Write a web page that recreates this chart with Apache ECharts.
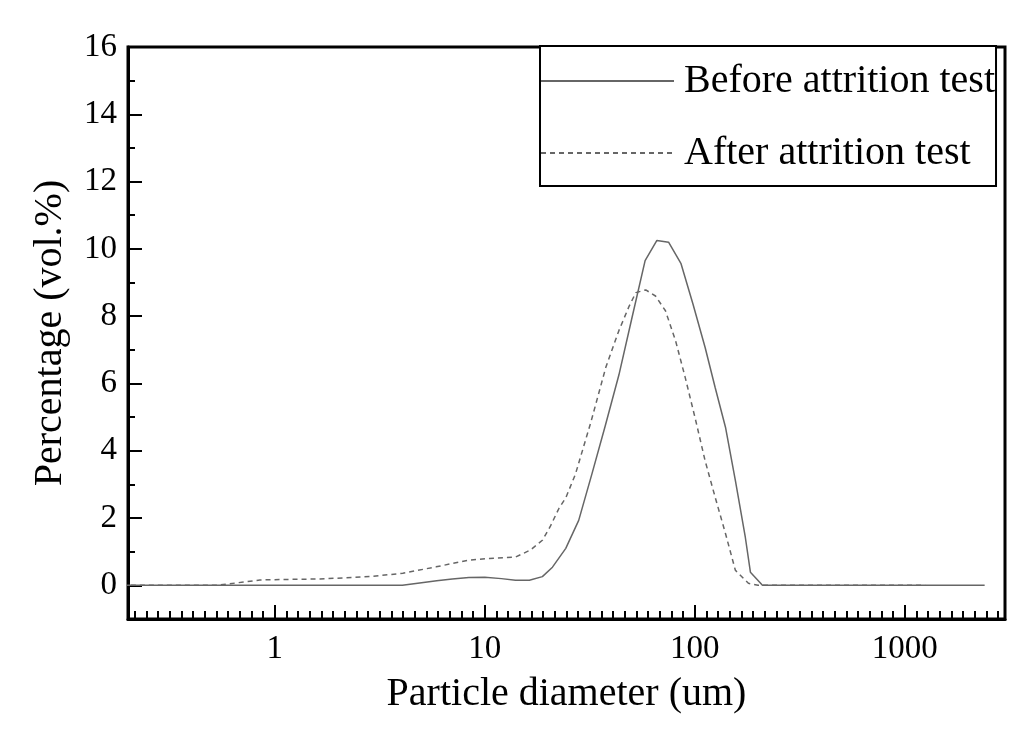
<!DOCTYPE html>
<html>
<head>
<meta charset="utf-8">
<script src="https://cdn.jsdelivr.net/npm/echarts@6/dist/echarts.min.js"></script>
<style>
  html, body { margin: 0; padding: 0; background: #fff; }
  #chart { width: 1032px; height: 729px; }
</style>
</head>
<body>
<div id="chart"></div>
<script>
// particle size distribution
var beforeSize = [0.187, 0.5, 1, 2, 3, 4.05, 5, 5.9, 7, 8.4, 10, 12, 14, 16.3, 18.8, 21, 24.3, 28, 32.5, 37.5, 43.5, 50, 58, 66, 75, 86, 98, 112, 125, 140, 156, 174, 184, 210, 500, 1000, 2400];
var beforeVal  = [0, 0, 0, 0, 0, 0, 0.08, 0.14, 0.19, 0.23, 0.24, 0.2, 0.15, 0.15, 0.26, 0.54, 1.1, 1.93, 3.35, 4.75, 6.25, 7.9, 9.65, 10.25, 10.2, 9.56, 8.36, 7.07, 5.88, 4.7, 3.12, 1.43, 0.39, 0, 0, 0, 0];

var afterSize = [0.187, 0.53, 0.85, 1, 1.64, 2.83, 4.07, 5.86, 8.4, 10.5, 14, 16.5, 18.8, 20.5, 22.6, 24.3, 27, 32, 37.7, 43.5, 48.7, 52.4, 58.4, 65, 72.5, 81, 90, 101, 112, 125, 140, 156, 180, 200, 1250];
var afterVal  = [0, 0, 0.16, 0.17, 0.19, 0.26, 0.36, 0.55, 0.75, 0.8, 0.84, 1.05, 1.34, 1.75, 2.3, 2.6, 3.3, 4.85, 6.48, 7.57, 8.3, 8.7, 8.78, 8.6, 8.16, 7.27, 6.18, 4.9, 3.7, 2.62, 1.54, 0.45, 0.06, 0, 0];

var xMajor = [1, 10, 100, 1000];
var yMajor = [0, 2, 4, 6, 8, 10, 12, 14, 16];
var yMinor = [1, 3, 5, 7, 9, 11, 13, 15];

// minor ticks on x are evenly spaced: 18 per decade
var xMinor = [];
for (var k = -12; k <= 62; k++) {
  if (k % 18 !== 0) xMinor.push(Math.pow(10, k / 18));
}

function pairs(xs, ys) {
  var res = [];
  for (var i = 0; i < xs.length; i++) res.push([xs[i], ys[i]]);
  return res;
}

var font = "'Liberation Serif', 'Times New Roman', serif";
var myChart = echarts.init(document.getElementById("chart"));

var option = {
  animation: false,
  backgroundColor: "#fff",
  textStyle: { fontFamily: font, color: "#000" },
  grid: {
    left: 128, right: 27, top: 47, bottom: 110,
    show: true, borderColor: "#000", borderWidth: 3
  },
  legend: {
    left: 540, top: 46,
    orient: "vertical",
    itemWidth: 133, itemHeight: 40, itemGap: 32,
    padding: [15, 1, 13, 0],
    borderColor: "#000", borderWidth: 2,
    backgroundColor: "#fff",
    itemStyle: { opacity: 0 },
    textStyle: { fontFamily: font, fontSize: 40, color: "#000", padding: [0, 0, 0, 5] },
    data: ["Before attrition test", "After attrition test"]
  },
  xAxis: [
    {
      type: "log", logBase: 10, min: 0.2, max: 3000,
      name: "Particle diameter (um)", nameLocation: "middle", nameGap: 55,
      nameTextStyle: { fontFamily: font, fontSize: 40, color: "#000" },
      axisLine: { onZero: false, lineStyle: { color: "#000", width: 3 } },
      axisTick: { inside: true, length: 14, lineStyle: { color: "#000", width: 2 }, customValues: xMajor },
      axisLabel: {
        fontFamily: font, fontSize: 33, color: "#000", margin: 14, customValues: xMajor,
        formatter: function (v) { return String(v); }
      },
      splitLine: { show: false }
    },
    {
      type: "log", logBase: 10, min: 0.2, max: 3000, position: "bottom",
      axisLine: { show: false, onZero: false },
      axisTick: { inside: true, length: 8, lineStyle: { color: "#000", width: 2 }, customValues: xMinor },
      axisLabel: { show: false },
      splitLine: { show: false }
    }
  ],
  yAxis: [
    {
      type: "value", min: -1, max: 16, interval: 1,
      name: "Percentage (vol.%)", nameLocation: "middle", nameGap: 58,
      nameTextStyle: { fontFamily: font, fontSize: 40, color: "#000" },
      axisLine: { show: true, onZero: false, lineStyle: { color: "#000", width: 3 } },
      axisTick: { show: true, inside: true, length: 14, lineStyle: { color: "#000", width: 2 }, customValues: yMajor },
      axisLabel: { fontFamily: font, fontSize: 33, color: "#000", margin: 11, customValues: yMajor },
      splitLine: { show: false }
    },
    {
      type: "value", min: -1, max: 16, interval: 1, position: "left", offset: 0,
      axisLine: { show: false, onZero: false },
      axisTick: { show: true, inside: true, length: 7, lineStyle: { color: "#000", width: 2 }, customValues: yMinor },
      axisLabel: { show: false },
      splitLine: { show: false }
    }
  ],
  series: [
    {
      name: "Before attrition test",
      type: "line",
      data: pairs(beforeSize, beforeVal),
      symbol: "none",
      clip: false,
      lineStyle: { color: "#666", width: 1.5, type: "solid" },
      itemStyle: { color: "#666" }
    },
    {
      name: "After attrition test",
      type: "line",
      data: pairs(afterSize, afterVal),
      symbol: "none",
      clip: false,
      lineStyle: { color: "#666", width: 1.5, type: [5, 4] },
      itemStyle: { color: "#666" }
    }
  ]
};

myChart.setOption(option);
window.addEventListener("resize", function () {
  myChart.resize();
});
</script>
</body>
</html>
